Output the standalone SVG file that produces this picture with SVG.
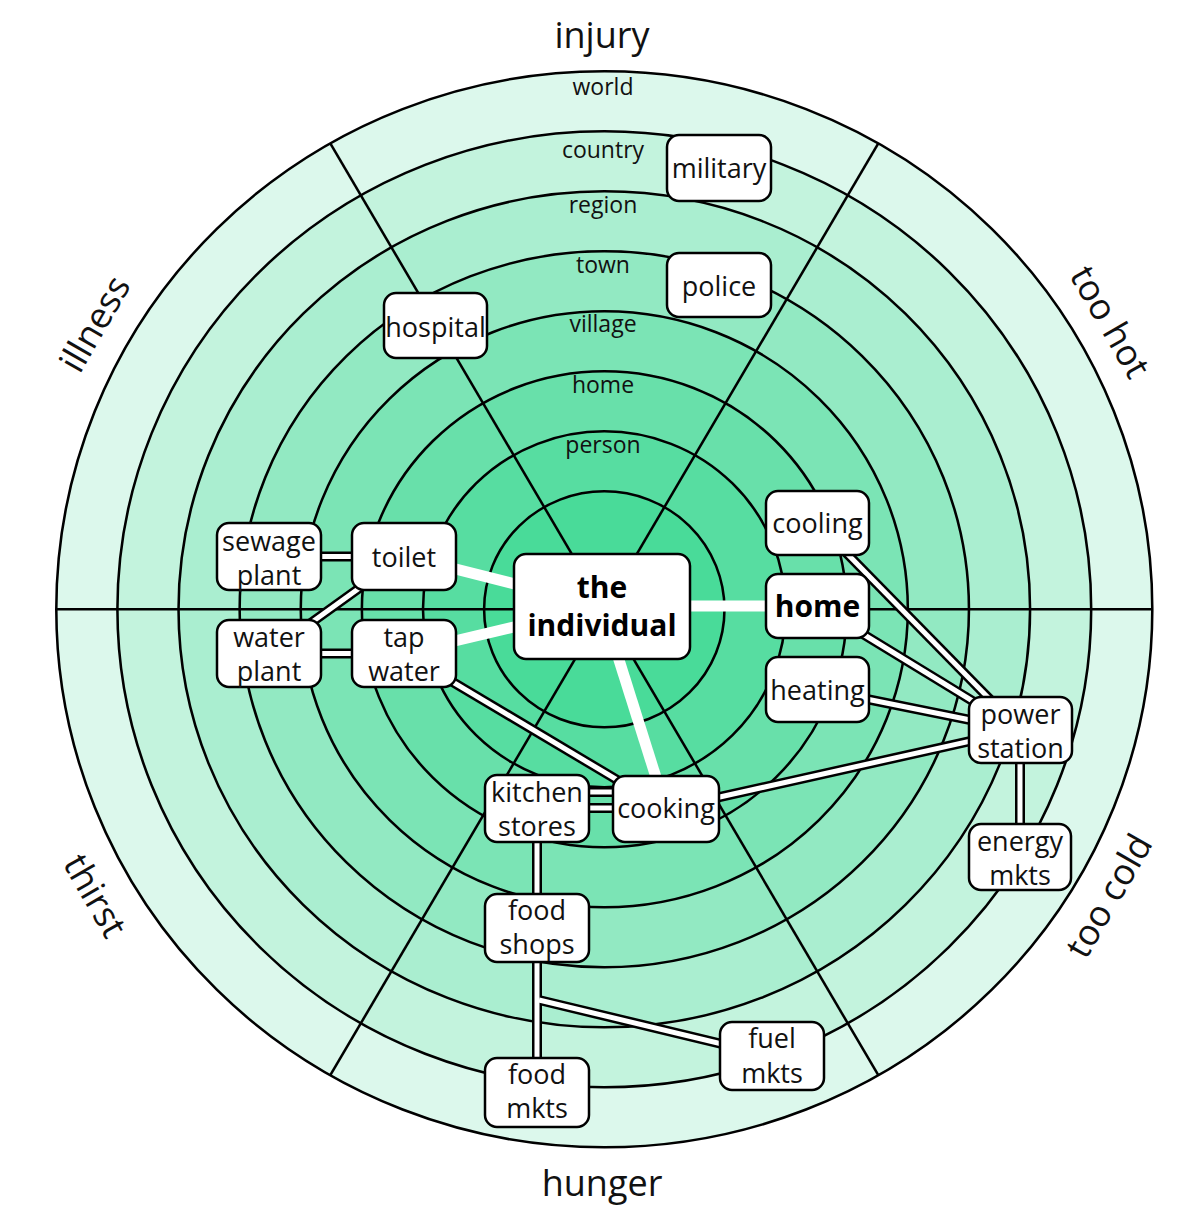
<svg xmlns="http://www.w3.org/2000/svg" width="1200" height="1226" viewBox="0 0 1200 1226">
<style>
.ring{stroke:#000;stroke-width:2.5}
.rad{stroke:#000;stroke-width:2.5;fill:none}
.rl{font-family:"Open Sans","Liberation Sans",sans-serif;font-size:23px;fill:#111;text-anchor:middle}
.ol{font-family:"Open Sans","Liberation Sans",sans-serif;font-size:36px;fill:#111;text-anchor:middle}
.box{fill:#fff;stroke:#000;stroke-width:2.5}
.nt{font-family:"Open Sans","Liberation Sans",sans-serif;font-size:27px;fill:#111;text-anchor:middle}
.bt{font-family:"Open Sans","Liberation Sans",sans-serif;font-size:30px;font-weight:bold;fill:#000;text-anchor:middle}
.lb{stroke:#000;stroke-width:10;fill:none}
.lw{stroke:#fff;stroke-width:5;fill:none}
.th{stroke:#fff;stroke-width:11;fill:none}
</style>
<rect width="1200" height="1226" fill="#fff"/>
<g id="disk" transform="translate(604.3,609.3) scale(1.0186,1)">
<circle class="ring" r="538" fill="#dcf8ec"/>
<circle class="ring" r="478" fill="#c3f3dd"/>
<circle class="ring" r="418" fill="#aaeed0"/>
<circle class="ring" r="358" fill="#92e9c2"/>
<circle class="ring" r="298" fill="#7be4b5"/>
<circle class="ring" r="238" fill="#68e0aa"/>
<circle class="ring" r="178" fill="#57dda1"/>
<circle class="ring" r="118" fill="#49db99"/>
<line class="rad" x1="-538" y1="0" x2="538" y2="0"/>
<line class="rad" x1="-269" y1="465.9" x2="269" y2="-465.9"/>
<line class="rad" x1="-269" y1="-465.9" x2="269" y2="465.9"/>
</g>
<g id="ring-labels">
<text class="rl" x="603" y="95">world</text>
<text class="rl" x="603" y="158">country</text>
<text class="rl" x="603" y="213">region</text>
<text class="rl" x="603" y="273">town</text>
<text class="rl" x="603" y="332">village</text>
<text class="rl" x="603" y="393">home</text>
<text class="rl" x="603" y="453">person</text>
</g>
<g id="outer-labels">
<text class="ol" x="602" y="48">injury</text>
<text class="ol" x="602" y="1196">hunger</text>
<text class="ol" transform="translate(97,325) rotate(-60)" y="10">illness</text>
<text class="ol" transform="translate(1108,323) rotate(60)" y="10">too hot</text>
<text class="ol" transform="translate(93,897) rotate(60)" y="10">thirst</text>
<text class="ol" transform="translate(1111,897) rotate(-60)" y="10">too cold</text>
</g>
<g id="connectors">
<line class="th" x1="602" y1="606" x2="404" y2="556"/>
<line class="th" x1="602" y1="606" x2="404" y2="653"/>
<line class="th" x1="602" y1="606" x2="817" y2="606"/>
<line class="th" x1="602" y1="606" x2="666" y2="809"/>
<g class="lb">
<line x1="269" y1="556.5" x2="404" y2="556.5"/>
<line x1="269" y1="653.5" x2="404" y2="653.5"/>
<line x1="269" y1="653" x2="404" y2="556"/>
<line x1="404" y1="653" x2="666" y2="809"/>
<line x1="560" y1="792" x2="640" y2="792"/>
<line x1="560" y1="808" x2="640" y2="808"/>
<line x1="666" y1="809" x2="1020" y2="730"/>
<line x1="817" y1="523" x2="1020" y2="730"/>
<line x1="817" y1="606" x2="1020" y2="730"/>
<line x1="817" y1="689" x2="1020" y2="730"/>
<line x1="1020" y1="730" x2="1020" y2="857"/>
<line x1="539" y1="1000" x2="772" y2="1056"/>
<line x1="537" y1="808" x2="537" y2="1092"/>
</g>
<g class="lw">
<line x1="269" y1="556.5" x2="404" y2="556.5"/>
<line x1="269" y1="653.5" x2="404" y2="653.5"/>
<line x1="269" y1="653" x2="404" y2="556"/>
<line x1="404" y1="653" x2="666" y2="809"/>
<line x1="560" y1="792" x2="640" y2="792"/>
<line x1="560" y1="808" x2="640" y2="808"/>
<line x1="666" y1="809" x2="1020" y2="730"/>
<line x1="817" y1="523" x2="1020" y2="730"/>
<line x1="817" y1="606" x2="1020" y2="730"/>
<line x1="817" y1="689" x2="1020" y2="730"/>
<line x1="1020" y1="730" x2="1020" y2="857"/>
<line x1="539" y1="1000" x2="772" y2="1056"/>
<line x1="537" y1="808" x2="537" y2="1092"/>
</g>
</g>
<g id="military"><rect class="box" x="667" y="135" width="104" height="66" rx="12"/><text class="nt" x="719" y="178">military</text></g>
<g id="police"><rect class="box" x="667" y="253" width="104" height="64" rx="12"/><text class="nt" x="719" y="296">police</text></g>
<g id="hospital"><rect class="box" x="384" y="293" width="103" height="65" rx="12"/><text class="nt" x="435.5" y="337">hospital</text></g>
<g id="individual"><rect class="box" x="514" y="554" width="176" height="105" rx="12"/><text class="bt" x="602" y="598">the</text><text class="bt" x="602" y="636">individual</text></g>
<g id="cooling"><rect class="box" x="766" y="491" width="103" height="64" rx="12"/><text class="nt" x="817.5" y="533">cooling</text></g>
<g id="home"><rect class="box" x="766" y="574" width="103" height="64" rx="12"/><text class="bt" x="817.5" y="617">home</text></g>
<g id="heating"><rect class="box" x="766" y="657" width="103" height="65" rx="12"/><text class="nt" x="817.5" y="700">heating</text></g>
<g id="power-station"><rect class="box" x="969" y="697" width="103" height="66" rx="12"/><text class="nt" x="1020.5" y="724">power</text><text class="nt" x="1020.5" y="758">station</text></g>
<g id="energy-mkts"><rect class="box" x="969" y="824" width="102" height="66" rx="12"/><text class="nt" x="1020" y="851">energy</text><text class="nt" x="1020" y="885">mkts</text></g>
<g id="sewage-plant"><rect class="box" x="217" y="523" width="104" height="67" rx="12"/><text class="nt" x="269" y="551">sewage</text><text class="nt" x="269" y="585">plant</text></g>
<g id="toilet"><rect class="box" x="352" y="523" width="104" height="67" rx="12"/><text class="nt" x="404" y="567">toilet</text></g>
<g id="water-plant"><rect class="box" x="217" y="620" width="104" height="67" rx="12"/><text class="nt" x="269" y="647">water</text><text class="nt" x="269" y="681">plant</text></g>
<g id="tap-water"><rect class="box" x="352" y="620" width="104" height="67" rx="12"/><text class="nt" x="404" y="647">tap</text><text class="nt" x="404" y="681">water</text></g>
<g id="kitchen-stores"><rect class="box" x="485" y="775" width="104" height="67" rx="12"/><text class="nt" x="537" y="802">kitchen</text><text class="nt" x="537" y="836">stores</text></g>
<g id="cooking"><rect class="box" x="613" y="776" width="106" height="66" rx="12"/><text class="nt" x="666" y="818">cooking</text></g>
<g id="food-shops"><rect class="box" x="485" y="894" width="104" height="68" rx="12"/><text class="nt" x="537" y="920">food</text><text class="nt" x="537" y="954">shops</text></g>
<g id="food-mkts"><rect class="box" x="485" y="1058" width="104" height="69" rx="12"/><text class="nt" x="537" y="1084">food</text><text class="nt" x="537" y="1118">mkts</text></g>
<g id="fuel-mkts"><rect class="box" x="720" y="1022" width="104" height="68" rx="12"/><text class="nt" x="772" y="1048">fuel</text><text class="nt" x="772" y="1083">mkts</text></g>
</svg>
